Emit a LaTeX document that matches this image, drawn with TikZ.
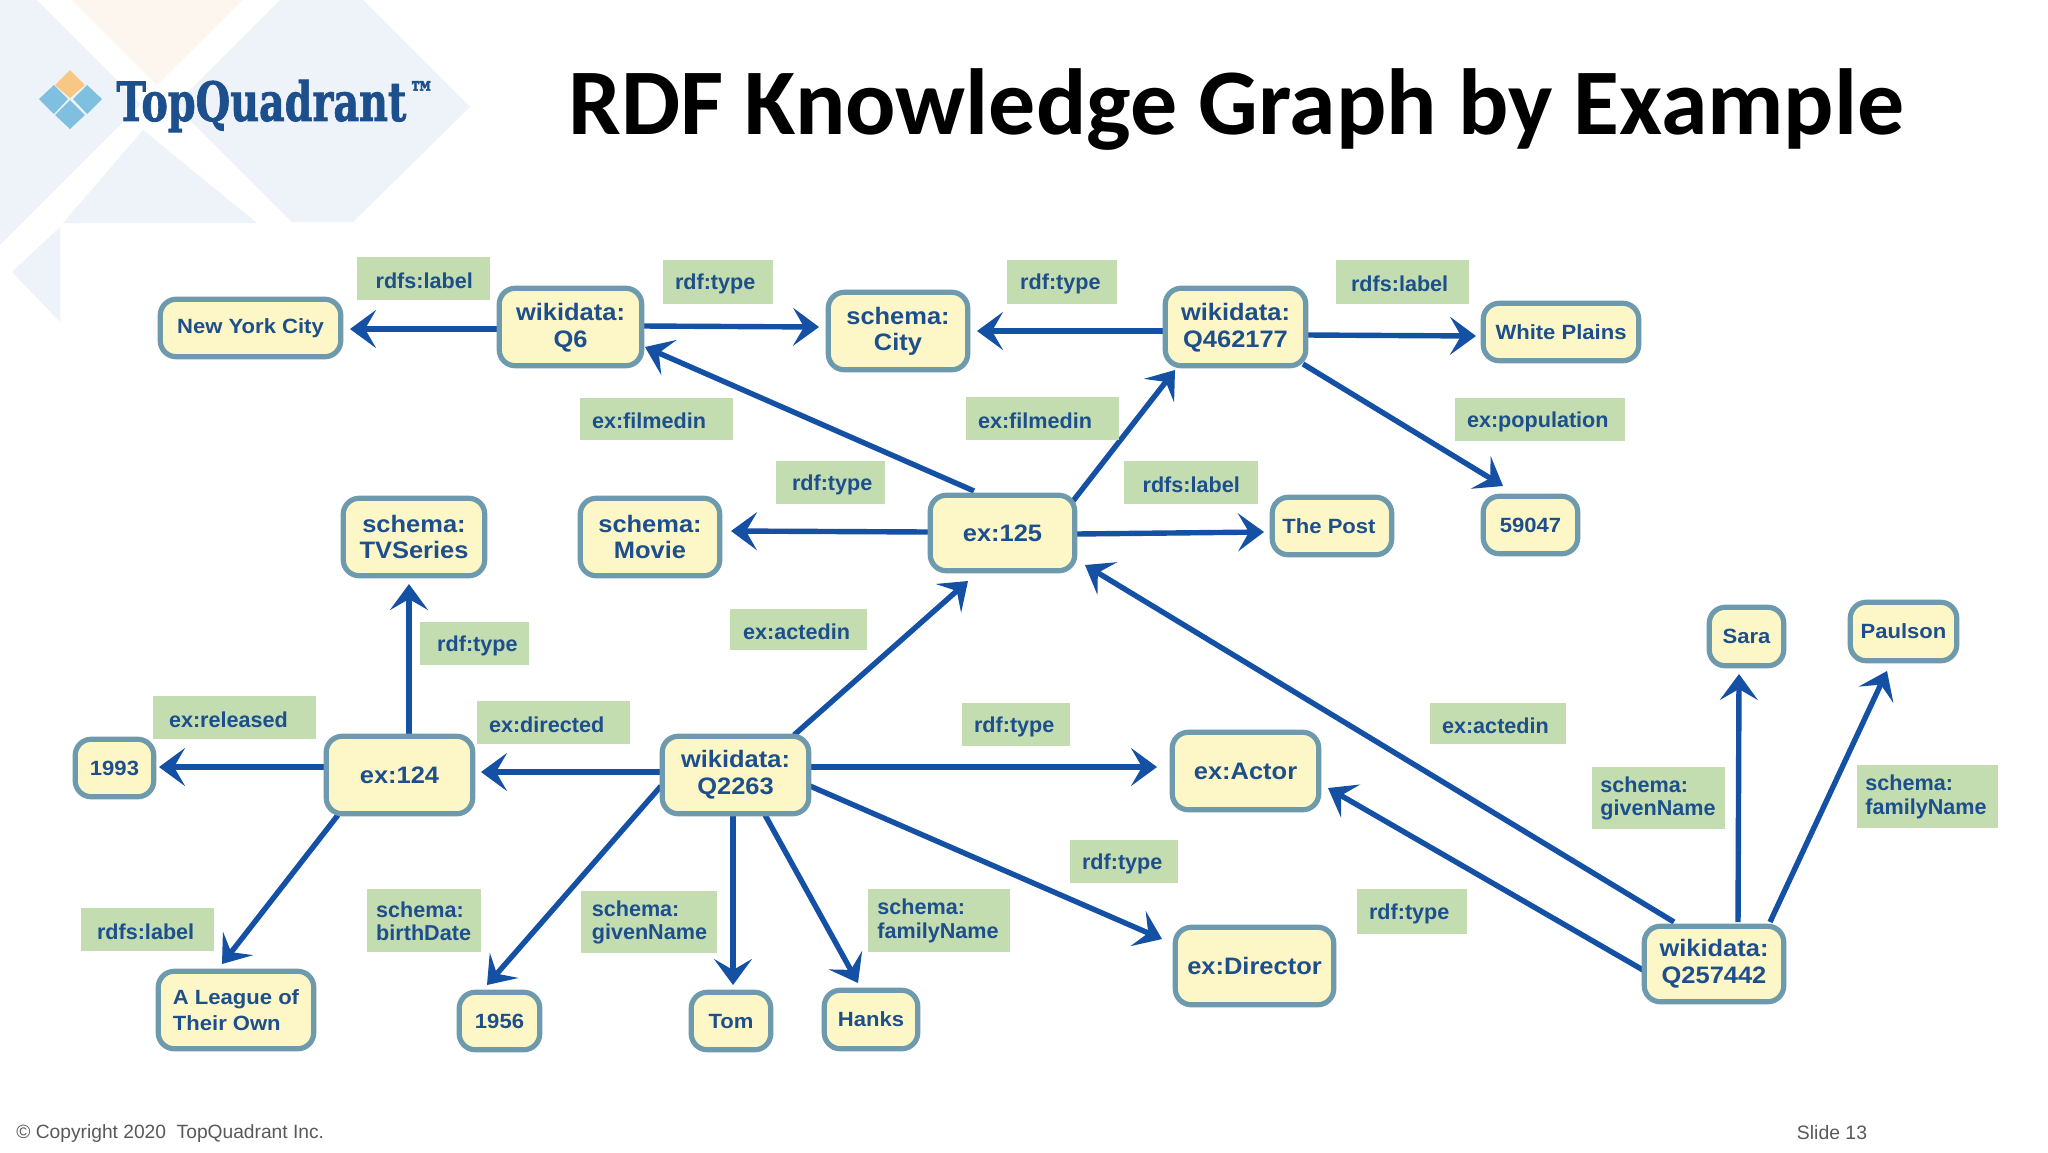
\documentclass[tikz,border=0pt]{standalone}
\usepackage{fontspec}
\setmainfont{Liberation Sans}
\newfontfamily\nodefont[FakeStretch=1.07]{Liberation Sans}
\newfontfamily\titlefont{Carlito}
\newfontfamily\logofont[FakeBold=1.6]{DejaVu Serif}
\usetikzlibrary{arrows.meta}
\pgfdeclarelayer{bg}
\pgfdeclarelayer{conn}
\pgfsetlayers{bg,conn,main}
\definecolor{navy}{HTML}{1D4F8C}
\definecolor{arrowblue}{HTML}{1450A3}
\definecolor{borderc}{HTML}{6E9AAE}
\definecolor{fillc}{HTML}{FDF6C6}
\definecolor{labelc}{HTML}{C3DDB0}
\definecolor{decoblue}{HTML}{EDF3F9}
\definecolor{decopeach}{HTML}{FDF6EE}
\definecolor{logoblue}{HTML}{7FBFDF}
\definecolor{logoorange}{HTML}{F9C784}
\definecolor{footc}{HTML}{595959}
\tikzset{
  nd/.style 2 args={draw=borderc,fill=fillc,line width=2.6pt,rounded corners=8pt,inner sep=0pt,
    minimum width={(#1-2.5)*0.5pt},minimum height={(#2-2.5)*0.5pt},text=navy,align=center},
  big/.style={font=\nodefont\fontsize{11.9}{13.4}\selectfont\bfseries},
  small/.style={font=\nodefont\fontsize{10.3}{13}\selectfont\bfseries},
  lblbox/.style 2 args={fill=labelc,inner sep=0pt,minimum width={#1*0.5pt},minimum height={#2*0.5pt}},
  lbltxt/.style={inner sep=0pt,text width={#1*0.5pt},text=navy,align=left,
    font=\fontsize{10.8}{11.8}\selectfont\bfseries,execute at begin node={\leftskip=6pt}},
  arr/.style={draw=arrowblue,line width=2.7pt,-{Stealth[length=13pt,width=19pt,inset=5.5pt]}},
  deco/.style={fill=decoblue,draw=none},
  cell/.style={fill=logoblue,draw=none},
}
\newcommand{\conn}[4]{\draw[arr] ([shift={(#2)}]#1.center) -- ([shift={(#4)}]#3.center);}
\newcommand{\hs}[1]{\hspace*{#1pt}}
% name, centre, width, height, text: one-line and two-line edge labels
\newcommand{\lab}[5]{\node[lblbox={#3}{#4}] (#1) at (#2) {};
  \node[lbltxt=#3] (#1t) at ([yshift=-1pt]#1.center) {#5};}
\newcommand{\labb}[5]{\node[lblbox={#3}{#4}] (#1) at (#2) {};
  \node[lbltxt=#3] (#1t) at ([yshift=-0.3pt]#1.center) {#5};}
\begin{document}
\begin{tikzpicture}[x=0.5pt,y=-0.5pt]
\useasboundingbox (0,0) rectangle (2048,1152);
\begin{pgfonlayer}{bg}
\fill[white] (0,0) rectangle (2048,1152);
\fill[deco] (0,0) -- (37,0) -- (141,104) -- (0,245) -- cycle;
\fill[deco] (143,130) -- (257,223) -- (63,223) -- cycle;
\fill[deco] (280,0) -- (363,0) -- (470,107) -- (353,222) -- (292,222) -- (175,105) -- cycle;
\fill[deco] (12,272) -- (60,227) -- (60,322) -- cycle;
\fill[fill=decopeach] (72,0) -- (243,0) -- (157,85) -- cycle;
\fill[fill=logoorange] (70,70) -- (85,85) -- (70,98) -- (55,85) -- cycle;
\fill[cell] (39,99) -- (54,85) -- (68,99) -- (54,114) -- cycle;
\fill[cell] (102,99) -- (87,85) -- (73,99) -- (87,114) -- cycle;
\fill[cell] (70,100) -- (85,115) -- (70,129) -- (55,115) -- cycle;
\end{pgfonlayer}
\node[anchor=west,inner sep=0pt,text=navy] (logo) at (116,106) {\scalebox{0.735}[1]{\logofont\fontsize{27}{27}\selectfont\bfseries TopQuadrant\hspace{2pt}\raisebox{7.5pt}{\fontsize{17}{17}\selectfont ™}}};
\node[anchor=base west,inner sep=0pt,text=black] (title) at (568,134) {\titlefont\fontsize{46.95}{50}\selectfont\bfseries RDF Knowledge Graph by Example};
\node[anchor=west,inner sep=0pt,text=footc] (foot) at (16,1134) {\fontsize{9.6}{12}\selectfont © Copyright 2020\ \ TopQuadrant Inc.};
\node[inner sep=0pt,text=footc] (slide) at (1832,1133) {\fontsize{9.7}{12}\selectfont Slide 13};

\node[nd={183}{60},small] (nyc) at (250.5,328) {\raisebox{-2pt}{New York City}};
\node[nd={145}{80},big] (q6) at (570.5,327) {\rule{0pt}{9pt}wikidata:\\Q6};
\node[nd={142}{80},big] (city) at (898,331) {\rule{0pt}{9pt}schema:\\City};
\node[nd={143}{80},big] (q46) at (1235.5,327) {\rule{0pt}{9pt}wikidata:\\Q462177};
\node[nd={158}{60},small] (wp) at (1561,332) {White Plains};
\node[nd={97}{60},small] (n59) at (1530.5,525) {59047};
\node[nd={122}{60},small] (post) at (1332,526) {\hspace*{-3pt}The Post};
\node[nd={147}{78},big] (e125) at (1002.5,533) {\raisebox{-3pt}{ex:125}};
\node[nd={142}{80},big] (movie) at (650,537) {schema:\\Movie};
\node[nd={144}{80},big] (tv) at (414,537) {schema:\\TVSeries};
\node[nd={77}{61},small] (sara) at (1746.5,636.5) {Sara};
\node[nd={109}{61},small] (paul) at (1903.5,631.5) {Paulson};
\node[nd={142}{78},big] (q25) at (1714,964) {wikidata:\\Q257442};
\node[nd={149}{80},big] (actor) at (1245.5,771) {\raisebox{-3pt}{ex:Actor}};
\node[nd={161}{80},big] (dir) at (1254.5,966) {\raisebox{-2pt}{ex:Director}};
\node[nd={149}{80},big] (q22) at (735.5,775) {wikidata:\\Q2263};
\node[nd={149}{80},big] (e124) at (399.5,775) {\raisebox{-3pt}{ex:124}};
\node[nd={81}{60},small] (y93) at (114.5,768) {1993};
\node[nd={158}{80},small,align=left] (league) at (236,1010) {A League of\\Their Own};
\node[nd={83}{60},small] (y56) at (499.5,1021) {1956};
\node[nd={82}{60},small] (tom) at (731,1021) {Tom};
\node[nd={96}{61},small] (hanks) at (871,1019.5) {Hanks};

\lab{l1}{423.5,278.5}{133}{43}{\hs{3.3}rdfs:label}
\lab{l2}{718,282}{110}{44}{rdf:type}
\lab{l3}{1062,282}{110}{44}{\hs{0.6}rdf:type}
\lab{l4}{1402.5,282}{133}{44}{\hs{1.5}rdfs:label}
\lab{l5}{656.5,419}{153}{42}{ex:filmedin}
\lab{l6}{1042.5,418.5}{153}{43}{ex:filmedin}
\lab{l7}{1540,419.5}{170}{43}{ex:population}
\lab{l8}{830.5,482.5}{109}{43}{\hs{2}rdf:type}
\lab{l9}{1191,482.5}{134}{43}{\hs{3.3}rdfs:label}
\lab{l10}{474.5,643.5}{109}{43}{\hs{2.6}rdf:type}
\lab{l11}{798.5,629.5}{137}{41}{\hs{0.6}ex:actedin}
\lab{l12}{234.5,717.5}{163}{43}{\hs{2}ex:released}
\lab{l13}{553.5,722.5}{153}{43}{ex:directed}
\lab{l14}{1016,724.5}{108}{43}{rdf:type}
\lab{l15}{1498,723.5}{136}{41}{ex:actedin}
\labb{l16}{1658.5,798}{133}{62}{\hs{-1.8}schema:\\\hs{-1.8}givenName}
\labb{l17}{1927.5,796.5}{141}{63}{\hs{-1.8}schema:\\\hs{-1.8}familyName}
\lab{l18}{1124,861.5}{108}{43}{rdf:type}
\lab{l19}{1412,911.5}{110}{45}{rdf:type}
\lab{l20}{147.5,929.5}{133}{43}{\hs{2}rdfs:label}
\labb{l21}{424,920.5}{114}{63}{\hs{-1.4}schema:\\\hs{-1.4}birthDate}
\labb{l22}{649,922}{136}{62}{\hs{-0.6}schema:\\\hs{-0.6}givenName}
\labb{l23}{939,920.5}{142}{63}{\hs{-1.3}schema:\\\hs{-1.3}familyName}

\begin{pgfonlayer}{conn}
\conn{q6}{-72,2}{nyc}{99.5,1}
\conn{q6}{72.5,-1}{city}{-79,-4}
\conn{q46}{-71.5,4}{city}{79,0}
\conn{q46}{71.5,8}{wp}{-85,4}
\conn{q46}{67.5,37}{n59}{-27.5,-39}
\conn{e125}{-28.5,-42}{q6}{74.5,20}
\conn{e125}{70.5,-32}{q46}{-60.5,43}
\conn{e125}{-73.5,-1}{movie}{81,-6}
\conn{e125}{73.5,1}{post}{-68,6}
\conn{q22}{58.5,-40}{e125}{-34.5,48}
\conn{q25}{-40,-42}{e125}{82.5,32}
\conn{q22}{-74.5,-3}{e124}{81.5,-3}
\conn{e124}{9.5,-40}{tv}{-5,47}
\conn{e124}{-74.5,-8}{y93}{44.5,-1}
\conn{e124}{-61.5,40}{league}{-14,-46}
\conn{q22}{74.5,-8}{actor}{-88.5,-4}
\conn{q22}{74.5,11}{dir}{-92.5,-27}
\conn{q22}{-74.5,11}{y56}{-12.5,-36}
\conn{q22}{-2.5,40}{tom}{2,-36}
\conn{q22}{29.5,40}{hanks}{-13,-36.5}
\conn{q25}{-71,6}{actor}{82.5,17}
\conn{q25}{24,-42}{sara}{-7.5,37.5}
\conn{q25}{56,-42}{paul}{-16.5,39.5}
\end{pgfonlayer}
\end{tikzpicture}
\end{document}
